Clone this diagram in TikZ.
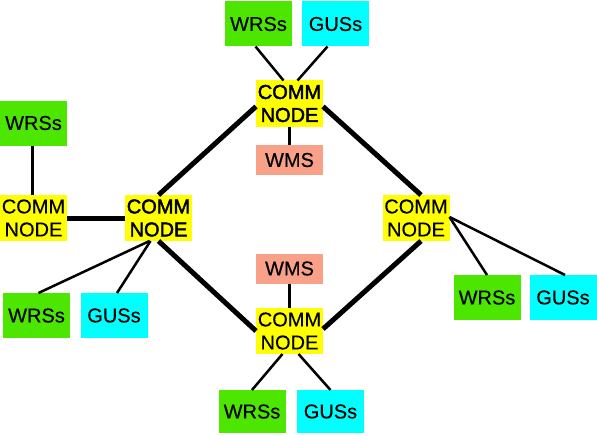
\documentclass[tikz,border=0pt]{standalone}
\usepackage{fontspec}
\setmainfont{Liberation Sans}[FakeBold=0.3]
\newfontfamily\heavyfont{Liberation Sans}[FakeBold=2.2]
\definecolor{wrsgreen}{RGB}{76,230,0}
\definecolor{guscyan}{RGB}{0,255,255}
\definecolor{commyellow}{RGB}{255,255,0}
\definecolor{wmssalmon}{RGB}{248,160,136}
\tikzset{
  box/.style={inner sep=0pt, outer sep=0pt, minimum width=67pt, align=center,
              font=\fontsize{20}{23}\selectfont},
  wrs/.style={box, fill=wrsgreen, minimum height=45pt},
  gus/.style={box, fill=guscyan, minimum height=45pt},
  comm/.style={box, fill=commyellow, minimum height=46pt},
  commb/.style={comm, font=\heavyfont\fontsize{20}{23}\selectfont},
  wms/.style={box, fill=wmssalmon, minimum height=30pt},
  trunk/.style={line width=5pt},
  link/.style={line width=2.5pt}
}
\begin{document}
\begin{tikzpicture}[x=1pt,y=-1pt]
\useasboundingbox[fill=white] (0,0) rectangle (597,436);
% nodes
\node[wrs] (tw) at (258.5,24) {WRSs};
\node[gus] (tg) at (335.5,24) {GUSs};
\node[commb] (tc) at (289.5,103.5) {COMM\\NODE};
\node[wms] (tm) at (289.5,160) {WMS};
\node[wrs] (lw) at (33.5,123) {WRSs};
\node[comm] (lc) at (33.5,218) {COMM\\NODE};
\node[commb] (cc) at (158.5,218) {COMM\\NODE};
\node[wrs] (cw) at (36.5,315.5) {WRSs};
\node[gus] (cg) at (114,315.5) {GUSs};
\node[comm] (rc) at (416,218) {COMM\\NODE};
\node[wrs] (rw) at (487,297.5) {WRSs};
\node[gus] (rg) at (563,297.5) {GUSs};
\node[wms] (bm) at (289.5,268.5) {WMS};
\node[comm] (bc) at (289.5,331) {COMM\\NODE};
\node[wrs, minimum height=43pt] (bw) at (252,411.5) {WRSs};
\node[gus, minimum height=43pt] (bg) at (330.5,411.5) {GUSs};
% trunk links
\draw[trunk] ([yshift=-3pt]tc.west) -- (cc.north);
\draw[trunk] ([yshift=-3pt]tc.east) -- ([xshift=5pt]rc.north);
\draw[trunk] (cc.south) -- (bc.west);
\draw[trunk] ([xshift=5pt]rc.south) -- ([yshift=2pt]bc.east);
\draw[trunk] (lc.east) -- (cc.west);
% thin links
\draw[link] ([xshift=-3pt]tw.south) -- ([xshift=-6pt]tc.north);
\draw[link] ([xshift=-8pt]tg.south) -- ([xshift=8pt]tc.north);
\draw[link] (tc.south) -- (tm.north);
\draw[link] ([xshift=-1pt]lw.south) -- ([xshift=-1pt]lc.north);
\draw[link] ([xshift=-9pt]cc.south) -- ([xshift=2pt]cw.north);
\draw[link] ([xshift=-8pt]cc.south) -- ([xshift=3pt]cg.north);
\draw[link] ([yshift=1pt]rc.east) -- (rw.north);
\draw[link] ([yshift=1pt]rc.east) -- ([xshift=2pt]rg.north);
\draw[link] (bm.south) -- (bc.north);
\draw[link] ([xshift=-7pt]bc.south) -- (bw.north);
\draw[link] ([xshift=9pt]bc.south) -- (bg.north);
\end{tikzpicture}
\end{document}
